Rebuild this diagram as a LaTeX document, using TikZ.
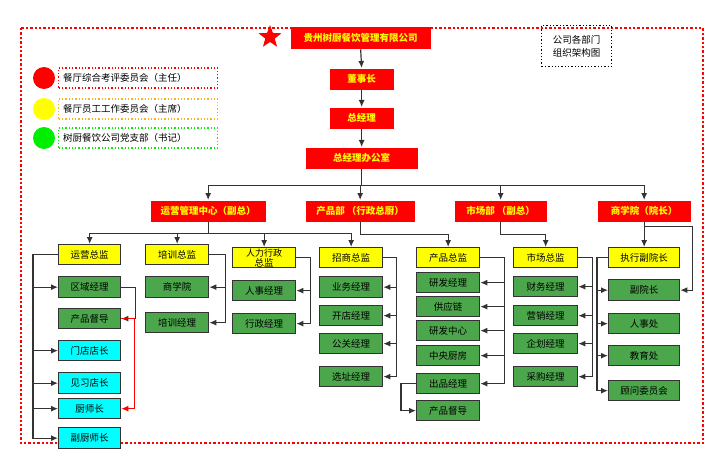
\documentclass[tikz,border=0pt]{standalone}
\usepackage{fontspec}
\setmainfont{Noto Sans CJK SC}
\usetikzlibrary{arrows.meta,shapes.geometric}
\definecolor{bd}{HTML}{333333}
\definecolor{gfill}{HTML}{4CA64C}
\definecolor{cy}{HTML}{00FFFF}
\definecolor{rd}{HTML}{FF0000}
\definecolor{yl}{HTML}{FFFF00}
\definecolor{gr}{HTML}{00EE00}
\definecolor{og}{HTML}{FFB020}
\tikzset{
 base/.style={draw=bd,line width=1.3pt,anchor=north west,inner sep=0pt,align=center,font=\fontsize{9.5}{10}\selectfont},
 rbox/.style={base,draw=none,fill=rd,text=yl,font=\fontsize{9.5}{10}\selectfont\bfseries},
 ybox/.style={base,fill=yl},
 gbox/.style={base,fill=gfill},
 cbox/.style={base,fill=cy},
 arr/.style={draw=bd,line width=1.2pt,-{Latex[length=7pt,width=6pt]}},
 rarr/.style={draw=rd,line width=1.2pt,-{Latex[length=7pt,width=6pt]}},
}
\newcommand{\bx}[6]{\node[#1,minimum width=#4pt,minimum height=#5pt] (#2) at (#3) {#6};}
\begin{document}
\begin{tikzpicture}[x=1pt,y=-1pt]
\useasboundingbox (0,0) rectangle (720,468);
\draw[rd,line width=2.4pt,dotted] (21,28) rectangle (703,443);
% title
\bx{rbox}{title}{290,26}{140}{22}{贵州树厨餐饮管理有限公司}
\node[star,star points=5,star point ratio=2.4,fill=rd,inner sep=0pt,minimum size=24pt] (star) at (270,37) {};
\node[draw,dotted,line width=1.3pt,anchor=north west,minimum width=70pt,minimum height=41pt,align=center,font=\fontsize{9.5}{12.5}\selectfont] (note) at (541,25) {公司各部门\\组织架构图};
% legend
\foreach \y/\c/\cc/\t/\n in {78/rd/rd/餐厅综合考评委员会（主任）/la,109/yl/og/餐厅员工工作委员会（主席）/lb,138/gr/gr/树厨餐饮公司党支部（书记）/lc}{
 \node[circle,fill=\c,minimum size=22pt,inner sep=0pt] (c\n) at (44,\y) {};
 \node[draw=\cc,dotted,line width=1.3pt,anchor=west,minimum width=159pt,minimum height=20pt,text width=150pt,font=\fontsize{9.5}{10}\selectfont] (\n) at (58,\y) {\t};
}
\bx{rbox}{dsz}{329,68}{64}{21}{董事长}
\bx{rbox}{zjl}{329,107}{64}{21}{总经理}
\bx{rbox}{off}{305,147}{112}{21}{总经理办公室}
\draw[arr] (title.south) -- (dsz.north);
\draw[arr] (dsz.south) -- (zjl.north);
\draw[arr] (zjl.south) -- (off.north);
% departments
\bx{rbox}{dyy}{150,200}{115}{21}{运营管理中心（副总）}
\bx{rbox}{dcp}{305,200}{109}{21}{产品部 （行政总厨）}
\bx{rbox}{dsc}{454,200}{92}{21}{市场部 （副总）}
\bx{rbox}{dsx}{597,200}{93}{21}{商学院（院长）}
\foreach \d in {dyy,dcp,dsc,dsx}{\draw[arr] (off.south) -- ++(0,16) -| (\d.north);}
% level 3
\bx{ybox}{yyzj}{58,244}{62}{20}{运营总监}
\bx{ybox}{pxzj}{145,244}{63}{20}{培训总监}
\bx{ybox}{rlzj}{232,247}{63}{20}{\fontsize{9}{8}\selectfont 人力行政\\总监}
\bx{ybox}{zszj}{319,247}{63}{20}{招商总监}
\bx{ybox}{cpzj}{416,247}{63}{20}{产品总监}
\bx{ybox}{sczj}{513,247}{64}{20}{市场总监}
\bx{ybox}{zxfy}{608,247}{71}{20}{执行副院长}
\foreach \n in {yyzj,pxzj,rlzj,zszj}{\draw[arr] (dyy.south) -- ++(0,11) -| (\n.north);}
\draw[arr] (dcp.south) -- ++(0,12) -| (cpzj.north);
\draw[arr] (dsc.south) -- ++(0,12) -| (sczj.north);
\draw[arr] (dsx.south) -- (zxfy.north);
% yunying
\bx{gbox}{qyjl}{58,276}{62}{21}{区域经理}
\bx{gbox}{cpdd}{58,308}{62}{20}{产品督导}
\bx{cbox}{mddz}{58,340}{62}{20}{门店店长}
\bx{cbox}{jxdz}{58,372}{62}{21}{见习店长}
\bx{cbox}{csz}{58,398}{62}{20}{厨师长}
\bx{cbox}{fcsz}{58,427}{62}{21}{副厨师长}
\foreach \n in {qyjl,mddz,jxdz,csz,fcsz}{\draw[arr] (yyzj.west) -- ++(-25,0) |- (\n.west);}
\draw[arr] (qyjl.east) -- ++(14,0) |- (cpdd.east);
\draw[rarr] (cpdd.east) -- ++(13,0) |- (csz.east);
% peixun
\bx{gbox}{sxy}{145,276}{63}{21}{商学院}
\bx{gbox}{pxjl}{145,312}{63}{20}{培训经理}
\foreach \n in {sxy,pxjl}{\draw[arr] (pxzj.east) -- ++(16,0) |- (\n.east);}
% renli
\bx{gbox}{rsjl}{232,280}{63}{20}{人事经理}
\bx{gbox}{xzjl}{232,313}{63}{20}{行政经理}
\foreach \n in {rsjl,xzjl}{\draw[arr] (rlzj.east) -- ++(14,0) |- (\n.east);}
% zhaoshang
\bx{gbox}{ywjl}{319,276}{63}{21}{业务经理}
\bx{gbox}{kdjl}{319,305}{63}{20}{开店经理}
\bx{gbox}{ggjl}{319,333}{63}{20}{公关经理}
\bx{gbox}{xzj}{319,366}{63}{20}{选址经理}
\foreach \n in {ywjl,kdjl,ggjl,xzj}{\draw[arr] (zszj.east) -- ++(13,0) |- (\n.east);}
% chanpin
\bx{gbox}{yfjl}{416,272}{63}{20}{研发经理}
\bx{gbox}{gyl}{416,296}{63}{20}{供应链}
\bx{gbox}{yfzx}{416,320}{63}{20}{研发中心}
\bx{gbox}{zycf}{416,345}{63}{20}{中央厨房}
\bx{gbox}{cpjl}{416,373}{63}{20}{出品经理}
\bx{gbox}{cpdd2}{416,400}{63}{20}{产品督导}
\foreach \n in {yfjl,gyl,yfzx,zycf,cpjl}{\draw[arr] (cpzj.east) -- ++(24,0) |- (\n.east);}
\draw[arr] (cpjl.west) -- ++(-15,0) |- (cpdd2.west);
% shichang
\bx{gbox}{cwjl}{513,276}{64}{20}{财务经理}
\bx{gbox}{yxjl}{513,305}{64}{20}{营销经理}
\bx{gbox}{qhjl}{513,333}{64}{20}{企划经理}
\bx{gbox}{cgjl}{513,366}{64}{20}{采购经理}
\foreach \n in {cwjl,yxjl,qhjl,cgjl}{\draw[arr] (sczj.east) -- ++(14,0) |- (\n.east);}
% shangxueyuan
\bx{gbox}{fyz}{608,279}{71}{21}{副院长}
\bx{gbox}{rsc}{608,313}{71}{20}{人事处}
\bx{gbox}{jyc}{608,345}{71}{20}{教育处}
\bx{gbox}{gwwy}{608,380}{71}{20}{顾问委员会}
\foreach \n in {fyz,rsc,jyc,gwwy}{\draw[arr] (zxfy.west) -- ++(-11,0) |- (\n.west);}
\draw[arr] (dsx.south) -- ++(0,4) -| ([xshift=12pt]fyz.east) -- (fyz.east);
\end{tikzpicture}
\end{document}
